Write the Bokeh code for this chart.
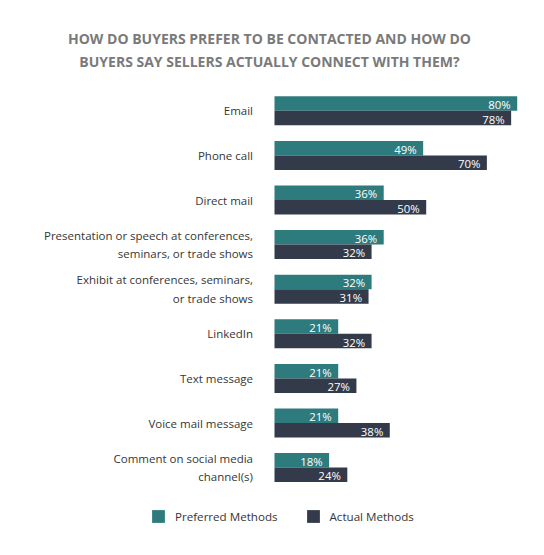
from bokeh.core.properties import value
from bokeh.embed import file_html
from bokeh.models import ColumnDataSource, Legend, LegendItem, Range1d
from bokeh.plotting import figure
from bokeh.resources import INLINE

categories = [
    "Email",
    "Phone call",
    "Direct mail",
    "Presentation or speech at conferences,\nseminars, or trade shows",
    "Exhibit at conferences, seminars,\nor trade shows",
    "LinkedIn",
    "Text message",
    "Voice mail message",
    "Comment on social media\nchannel(s)",
]
preferred = [80, 49, 36, 36, 32, 21, 21, 21, 18]
actual = [78, 70, 50, 32, 31, 32, 27, 38, 24]

title_lines = [
    "HOW DO BUYERS PREFER TO BE CONTACTED AND HOW DO",
    "BUYERS SAY SELLERS ACTUALLY CONNECT WITH THEM?",
]

TEAL = "#2e7b7d"
NAVY = "#333b4a"
FONT = value("Open Sans")

W, H = 544, 555
px_per_pct = 3.034      # horizontal pixels per percentage point
px_per_row = 44.6       # vertical pixels per category
x0_px = 274             # bar baseline, in pixels
y0_px = 110.3           # first row centre, in pixels (from top)

p = figure(width=W, height=H, output_backend="svg", toolbar_location=None,
           min_border=0, tools="")
p.x_range = Range1d(-x0_px / px_per_pct, (W - x0_px) / px_per_pct)
p.y_range = Range1d(-(H - y0_px) / px_per_row, y0_px / px_per_row)
p.axis.visible = False
p.grid.visible = False
p.outline_line_color = None
p.background_fill_color = "white"

rows = [-i for i in range(len(categories))]
bar_h = 14.5 / px_per_row
src = ColumnDataSource(dict(
    cat=categories,
    row=rows,
    y_pref=[r + bar_h / 2 for r in rows],
    y_act=[r - bar_h / 2 for r in rows],
    pref=preferred,
    act=actual,
    pref_lbl=[f"{v}%" for v in preferred],
    act_lbl=[f"{v}%" for v in actual],
    zero=[0] * len(categories),
))

r_pref = p.hbar(y="y_pref", left=0, right="pref", height=bar_h, source=src,
                fill_color=TEAL, line_color=None)
r_act = p.hbar(y="y_act", left=0, right="act", height=bar_h, source=src,
               fill_color=NAVY, line_color=None)

# value labels inside the bar ends
for col, ycol in (("pref", "y_pref"), ("act", "y_act")):
    p.text(x=col, y=ycol, text=col + "_lbl", source=src, x_offset=-6.5,
           y_offset=1, text_align="right", text_baseline="middle",
           text_color="white", text_font=FONT, text_font_size="11.4px")

# category labels
p.text(x="zero", y="row", text="cat", source=src, x_offset=-21.5,
       text_align="right", text_baseline="middle", text_color="#363636",
       text_font=FONT, text_font_size="11.5px", text_line_height=1.25)

# title
title_x = (269 - x0_px) / px_per_pct
for k, line in enumerate(title_lines):
    ty = (y0_px - (38.3 + 23 * k)) / px_per_row
    p.text(x=[title_x], y=[ty], text=[line], text_align="center",
           text_baseline="middle", text_color="#7a7a7a", text_font=FONT,
           text_font_size="14px", text_font_style="bold")

legend = Legend(items=[LegendItem(label="Preferred Methods", renderers=[r_pref]),
                       LegendItem(label="Actual Methods", renderers=[r_act])],
                orientation="horizontal", location=(150, 31),
                glyph_width=16, glyph_height=16, label_height=16,
                label_standoff=9, spacing=27, padding=0, margin=0,
                border_line_color=None, background_fill_alpha=0,
                label_text_font="Open Sans", label_text_font_size="11.6px",
                label_text_color="#363636")
p.add_layout(legend, "center")

open("out.html", "w").write(file_html(p, INLINE))
